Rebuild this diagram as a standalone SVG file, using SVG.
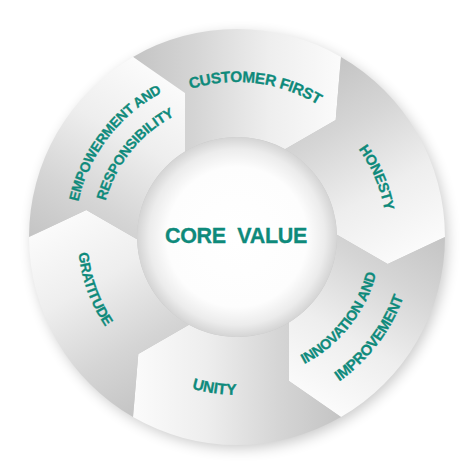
<svg xmlns="http://www.w3.org/2000/svg" width="474" height="474" viewBox="0 0 474 474">
<defs>
  <linearGradient id="segGrad" gradientUnits="userSpaceOnUse" x1="-104" y1="-140" x2="104" y2="-140">
    <stop offset="0" stop-color="#c4c4c4"/>
    <stop offset="0.3" stop-color="#d5d5d5"/>
    <stop offset="0.65" stop-color="#eeeeee"/>
    <stop offset="1" stop-color="#fbfbfb"/>
  </linearGradient>
  <radialGradient id="coreGrad" cx="0.5" cy="0.5" r="0.5">
    <stop offset="0" stop-color="#ffffff"/>
    <stop offset="0.7" stop-color="#fdfdfd"/>
    <stop offset="0.88" stop-color="#ececec"/>
    <stop offset="1" stop-color="#d4d4d4"/>
  </radialGradient>
  <filter id="blur" x="-20%" y="-20%" width="140%" height="140%">
    <feGaussianBlur stdDeviation="7"/>
  </filter>
  <path id="seg" d="M-104,-180.1 A208,208 0 0 1 104,-180.1 L98.7,-117 L47.96,-87.73 A100,100 0 0 0 -52,-85.4 L-52,-144 Z"/>
  <path id="pCF" d="M83.15,218.11 A155,155 0 0 1 390.85,255.89"/>
  <path id="pHon" d="M178.39,98.92 A150,150 0 0 1 295.61,375.08"/>
  <path id="pEmp1" d="M136.57,367.89 A165,165 0 0 1 337.43,106.11"/>
  <path id="pEmp2" d="M150.47,343.85 A137.5,137.5 0 0 1 323.53,130.15"/>
  <path id="pInn1" d="M147.36,349.70 A144,144 0 0 0 326.64,124.30"/>
  <path id="pInn2" d="M129.74,377.80 A177,177 0 0 0 344.26,96.20"/>
  <path id="pUni" d="M79.75,213.5 A159,159 0 0 0 394.25,260.5"/>
  <path id="pGra" d="M182.28,86.65 A160,160 0 0 0 291.72,387.35"/>
</defs>
<style>
  .seg { fill: url(#segGrad); }
  .lbl { font-family: "Liberation Sans", Arial, sans-serif; font-weight: bold; fill: #0e8a7b; stroke: #0e8a7b; stroke-width: 0.3; letter-spacing: -0.3px; }
</style>
<rect width="474" height="474" fill="#ffffff"/>
<circle cx="240" cy="241" r="207" fill="#000" opacity="0.22" filter="url(#blur)"/>

<g id="customer-first">
  <use href="#seg" class="seg" transform="translate(237,237)"/>
  <text class="lbl" font-size="15.4"><textPath href="#pCF" startOffset="50%" text-anchor="middle">CUSTOMER FIRST</textPath></text>
</g>
<g id="honesty">
  <use href="#seg" class="seg" transform="translate(237,237) rotate(60)"/>
  <text class="lbl" font-size="14.4"><textPath href="#pHon" startOffset="50%" text-anchor="middle">HONESTY</textPath></text>
</g>
<g id="innovation">
  <use href="#seg" class="seg" transform="translate(237,237) rotate(120)"/>
  <text class="lbl" font-size="14.4"><textPath href="#pInn1" startOffset="50%" text-anchor="middle">INNOVATION AND</textPath></text>
  <text class="lbl" font-size="14.9"><textPath href="#pInn2" startOffset="50%" text-anchor="middle">IMPROVEMENT</textPath></text>
</g>
<g id="unity">
  <use href="#seg" class="seg" transform="translate(237,237) rotate(180)"/>
  <text class="lbl" font-size="15.4"><textPath href="#pUni" startOffset="50%" text-anchor="middle">UNITY</textPath></text>
</g>
<g id="gratitude">
  <use href="#seg" class="seg" transform="translate(237,237) rotate(240)"/>
  <text class="lbl" font-size="14.2"><textPath href="#pGra" startOffset="50%" text-anchor="middle">GRATITUDE</textPath></text>
</g>
<g id="empowerment">
  <use href="#seg" class="seg" transform="translate(237,237) rotate(300)"/>
  <text class="lbl" font-size="13.9"><textPath href="#pEmp1" startOffset="50%" text-anchor="middle">EMPOWERMENT AND</textPath></text>
  <text class="lbl" font-size="14"><textPath href="#pEmp2" startOffset="50%" text-anchor="middle">RESPONSIBILITY</textPath></text>
</g>
<g id="core-value">
  <circle cx="237" cy="237" r="100" fill="url(#coreGrad)"/>
  <text class="lbl" x="236" y="243" font-size="21.5" text-anchor="middle" xml:space="preserve">CORE  VALUE</text>
</g>
</svg>
